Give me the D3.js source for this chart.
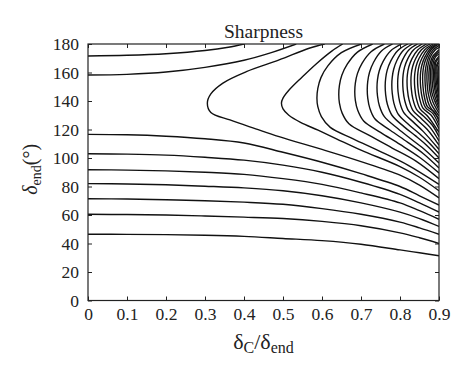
<!DOCTYPE html>
<html>
<head>
<meta charset="utf-8">
<script src="https://cdn.jsdelivr.net/npm/d3@7"></script>
<style>
  html, body { margin: 0; padding: 0; background: #fff; }
  svg { display: block; }
  text { font-family: "Liberation Serif", "Times New Roman", serif; fill: #222; }
</style>
</head>
<body>
<svg id="chart" width="474" height="375"></svg>
<script>
// ---- data ----
const chartTitle = "Sharpness";
const xTicks = [0, 0.1, 0.2, 0.3, 0.4, 0.5, 0.6, 0.7, 0.8, 0.9];
const yTicks = [0, 20, 40, 60, 80, 100, 120, 140, 160, 180];
const xDomain = [0, 0.9];
const yDomain = [0, 180];

// contours starting at the left edge and ending at the right edge: [x, deg]
const lowerContours = [
  [[0,46.5],[0.1,46.4],[0.2,46.2],[0.3,45.8],[0.4,45],[0.5,43.5],[0.6,42],[0.7,39.5],[0.8,35.5],[0.85,33.5],[0.9,31.4]],
  [[0,60.5],[0.1,60.3],[0.2,60],[0.3,59.3],[0.4,58.5],[0.5,57.5],[0.6,55.5],[0.7,52.5],[0.8,47.5],[0.85,44],[0.9,40]],
  [[0,71.4],[0.1,71.2],[0.2,70.7],[0.3,70],[0.4,69],[0.5,67.5],[0.6,64.5],[0.7,60.5],[0.8,55],[0.85,51],[0.9,46.5]],
  [[0,82],[0.1,81.8],[0.2,81.2],[0.3,80.2],[0.4,79],[0.5,77],[0.6,73.5],[0.7,68.5],[0.8,62],[0.85,57.5],[0.9,52]],
  [[0,91.8],[0.1,91.5],[0.2,91],[0.3,90],[0.4,88.5],[0.5,85.5],[0.6,81.5],[0.7,75.5],[0.8,68.5],[0.85,63],[0.9,57]],
  [[0,103],[0.1,102.7],[0.2,102],[0.3,100.5],[0.4,98.5],[0.5,95],[0.6,90],[0.7,83],[0.8,74.5],[0.85,68.5],[0.9,62]],
  [[0,116.6],[0.1,116.3],[0.2,115.3],[0.3,113.5],[0.4,110.5],[0.5,104],[0.6,97],[0.7,89],[0.8,80],[0.85,73.5],[0.9,67]]
];

// contours starting at the left edge and leaving through the top
const upperContours = [
  [[0,171.6],[0.1,172.1],[0.2,173.2],[0.3,175.4],[0.36,177.7],[0.40,180]],
  [[0,158.2],[0.1,158.7],[0.2,160.3],[0.3,163.6],[0.4,168.6],[0.47,174],[0.534,180]]
];

// nose-shaped contours (top edge -> nose -> right edge)
const noseContours = [
  [[0.607,180],[0.567,177],[0.49,168.8],[0.406,160.6],[0.346,152.6],[0.315,145],[0.306,138.5],[0.315,132],[0.364,126.7],[0.43,120.5],[0.49,115],[0.6,106],[0.7,97.5],[0.8,88],[0.85,81],[0.9,72]],
  [[0.653,180],[0.625,175],[0.585,166],[0.548,156.5],[0.515,147.5],[0.5,142],[0.496,138.5],[0.5,134.5],[0.515,130],[0.545,125],[0.59,119.5],[0.637,113.5],[0.7,105.5],[0.8,94],[0.85,86.5],[0.9,77]],
  [[0.701,180],[0.6497,173.9],[0.6155,164.8],[0.5973,156.4],[0.5893,148.8],[0.587,142],[0.5893,136],[0.5984,129],[0.6212,121.5],[0.68,113.5],[0.75,104.5],[0.82,95],[0.9,81.5]],
  [[0.730,180],[0.6909,174.3],[0.6648,165.8],[0.6508,158],[0.6447,150.9],[0.643,144.5],[0.6447,138.5],[0.6517,131.5],[0.6691,124],[0.72,116],[0.78,107],[0.84,98],[0.9,85.5]],
  [[0.760,180],[0.7258,174.6],[0.703,166.6],[0.6908,159.2],[0.6855,152.5],[0.684,146.5],[0.6855,140.5],[0.6916,133.5],[0.7068,126],[0.75,118],[0.80,109.5],[0.85,100.5],[0.9,89.5]],
  [[0.781,180],[0.7518,174.9],[0.7323,167.2],[0.7219,160.2],[0.7173,153.8],[0.716,148],[0.7173,142],[0.7225,135],[0.7355,127.5],[0.775,119.5],[0.82,111],[0.86,103],[0.9,93]],
  [[0.804,180],[0.7757,175.1],[0.7568,167.8],[0.7467,161.1],[0.7423,155],[0.741,149.5],[0.7423,143.5],[0.7473,136.5],[0.7599,129],[0.795,120.5],[0.83,113],[0.865,105.5],[0.9,96.5]],
  [[0.820,180],[0.7939,175.3],[0.7765,168.2],[0.7672,161.7],[0.7632,155.8],[0.762,150.5],[0.7632,144.5],[0.7678,137.5],[0.7794,130],[0.81,122],[0.84,115.5],[0.87,108.5],[0.9,100]],
  [[0.832,180],[0.8082,175.4],[0.7923,168.6],[0.7838,162.3],[0.7801,156.6],[0.779,151.5],[0.7801,145.5],[0.7843,138.5],[0.7949,131],[0.822,123.5],[0.85,117],[0.875,110.5],[0.9,103]],
  [[0.845,180],[0.822,175.6],[0.8068,169],[0.7986,163],[0.795,157.5],[0.794,152.5],[0.795,146.5],[0.7991,139.5],[0.8093,132],[0.835,125],[0.86,118.5],[0.9,106]],
  [[0.857,180],[0.8345,175.8],[0.8195,169.4],[0.8115,163.6],[0.808,158.3],[0.807,153.5],[0.808,147.5],[0.812,140.5],[0.822,133],[0.845,126.5],[0.87,120],[0.9,109]],
  [[0.868,180],[0.8455,175.8],[0.8305,169.6],[0.8225,163.9],[0.819,158.7],[0.818,154],[0.819,148],[0.823,141],[0.833,133.5],[0.855,127.5],[0.877,121.5],[0.9,112]],
  [[0.877,180],[0.855,175.9],[0.8403,169.8],[0.8324,164.2],[0.829,159.1],[0.828,154.5],[0.829,148.5],[0.8329,141.5],[0.8427,134],[0.864,128.5],[0.883,123],[0.9,115]],
  [[0.885,180],[0.8634,176],[0.849,170],[0.8413,164.5],[0.838,159.5],[0.837,155],[0.838,149],[0.8418,142],[0.8514,134.5],[0.872,129],[0.9,118]],
  [[0.891,180],[0.8703,176.1],[0.8565,170.2],[0.8491,164.8],[0.8459,159.9],[0.845,155.5],[0.8459,149.5],[0.8496,142.5],[0.8588,135],[0.88,130],[0.9,120.5]],
  [[0.896,180],[0.8762,176.2],[0.863,170.4],[0.856,165.1],[0.8529,160.3],[0.852,156],[0.8529,150],[0.8564,143],[0.8652,135.5],[0.885,131],[0.9,123]],
  [[0.899,180],[0.8806,176.2],[0.8683,170.6],[0.8617,165.4],[0.8588,160.7],[0.858,156.5],[0.8588,150.5],[0.8621,143.5],[0.8703,136],[0.889,132],[0.9,125.5]],
  [[0.9,179],[0.884,175.5],[0.873,170.5],[0.8675,165.5],[0.8648,161],[0.864,157],[0.8648,151],[0.8676,144],[0.875,137],[0.9,127.5]],
  [[0.9,177.5],[0.889,175.5],[0.878,171],[0.8725,166],[0.8698,161.5],[0.869,157.5],[0.8698,151.5],[0.8726,145],[0.88,138],[0.9,129.5]],
  [[0.9,176],[0.883,171],[0.8775,166.5],[0.8748,162],[0.874,158],[0.8748,152],[0.8776,145.5],[0.885,139],[0.9,131.5]],
  [[0.9,174.5],[0.887,171],[0.8815,167],[0.8788,162.5],[0.878,158.5],[0.8788,152.5],[0.8816,146],[0.889,140],[0.9,133.5]],
  [[0.9,173],[0.891,171],[0.8855,167],[0.8828,163],[0.882,159],[0.8828,153],[0.8856,147],[0.892,141],[0.9,135.5]],
  [[0.9,171.5],[0.8895,167.5],[0.8868,163.5],[0.886,159.5],[0.8868,153.5],[0.8896,147.5],[0.9,137.5]],
  [[0.9,170],[0.8925,167.5],[0.8898,164],[0.889,160],[0.8898,154],[0.8926,148],[0.9,139.5]],
  [[0.9,168.5],[0.8928,164.5],[0.892,160.5],[0.8928,154.5],[0.9,142]],
  [[0.9,167],[0.8955,164.5],[0.895,161],[0.8955,156],[0.9,145]],
  [[0.9,165],[0.898,161.5],[0.9,148]]
];

// ---- drawing ----
const svg = d3.select("#chart");
const margin = { left: 88, right: 35, top: 44, bottom: 74.5 };
const W = 474, H = 375;
const x = d3.scaleLinear().domain(xDomain).range([margin.left, W - margin.right]);
const y = d3.scaleLinear().domain(yDomain).range([H - margin.bottom, margin.top]);

svg.append("rect").attr("width", W).attr("height", H).attr("fill", "#fff");

svg.append("defs").append("clipPath").attr("id", "plotClip")
  .append("rect")
  .attr("x", x(0)).attr("y", y(180))
  .attr("width", x(0.9) - x(0)).attr("height", y(0) - y(180));

const line = d3.line()
  .x(d => x(d[0]))
  .y(d => y(d[1]))
  .curve(d3.curveCatmullRom.alpha(0.5));

const g = svg.append("g").attr("clip-path", "url(#plotClip)");
const allContours = [...lowerContours, ...upperContours, ...noseContours];
g.selectAll("path.contour")
  .data(allContours)
  .join("path")
  .attr("class", "contour")
  .attr("d", line)
  .attr("fill", "none")
  .attr("stroke", "#111")
  .attr("stroke-width", 1.4);

// axes (ticks inside, on all four sides)
const fontSize = 17.5;
function styleAxis(sel) {
  sel.select(".domain").remove();
  sel.selectAll(".tick line").attr("stroke", "#222").attr("stroke-width", 1);
  sel.selectAll("text").attr("font-size", fontSize).attr("font-family", "Liberation Serif, Times New Roman, serif").attr("fill", "#222");
}
svg.append("g").attr("transform", `translate(0,${y(0)})`)
  .call(d3.axisBottom(x).tickValues(xTicks).tickFormat(d => d === 0 ? "0" : d3.format(".1f")(d)).tickSize(-4).tickPadding(7.5))
  .call(styleAxis);
svg.append("g").attr("transform", `translate(0,${y(180)})`)
  .call(d3.axisTop(x).tickValues(xTicks).tickFormat("").tickSize(-4))
  .call(styleAxis);
svg.append("g").attr("transform", `translate(${x(0)},0)`)
  .call(d3.axisLeft(y).tickValues(yTicks).tickFormat(d3.format("d")).tickSize(-4).tickPadding(9))
  .call(styleAxis);
svg.append("g").attr("transform", `translate(${x(0.9)},0)`)
  .call(d3.axisRight(y).tickValues(yTicks).tickFormat("").tickSize(-4))
  .call(styleAxis);

// frame
svg.append("rect")
  .attr("x", x(0)).attr("y", y(180))
  .attr("width", x(0.9) - x(0)).attr("height", y(0) - y(180))
  .attr("fill", "none").attr("stroke", "#222").attr("stroke-width", 1.2);

// title
svg.append("text")
  .attr("x", (x(0) + x(0.9)) / 2).attr("y", 38)
  .attr("text-anchor", "middle").attr("font-size", 19.5)
  .text(chartTitle);

// x label: δC/δend
const xl = svg.append("text")
  .attr("x", (x(0) + x(0.9)) / 2).attr("y", 349)
  .attr("text-anchor", "middle").attr("font-size", 22);
xl.append("tspan").text("δ");
xl.append("tspan").attr("font-size", 16).attr("dy", 4).text("C");
xl.append("tspan").attr("dy", -4).text("/δ");
xl.append("tspan").attr("font-size", 16).attr("dy", 4).text("end");

// y label: δend(°)
const yl = svg.append("text")
  .attr("transform", `translate(37,${(y(0) + y(180)) / 2 - 3}) rotate(-90)`)
  .attr("text-anchor", "middle").attr("font-size", 20);
yl.append("tspan").attr("font-style", "italic").text("δ");
yl.append("tspan").attr("font-size", 14).attr("dy", 4).text("end");
yl.append("tspan").attr("dy", -4).text("(°)");
</script>
</body>
</html>
